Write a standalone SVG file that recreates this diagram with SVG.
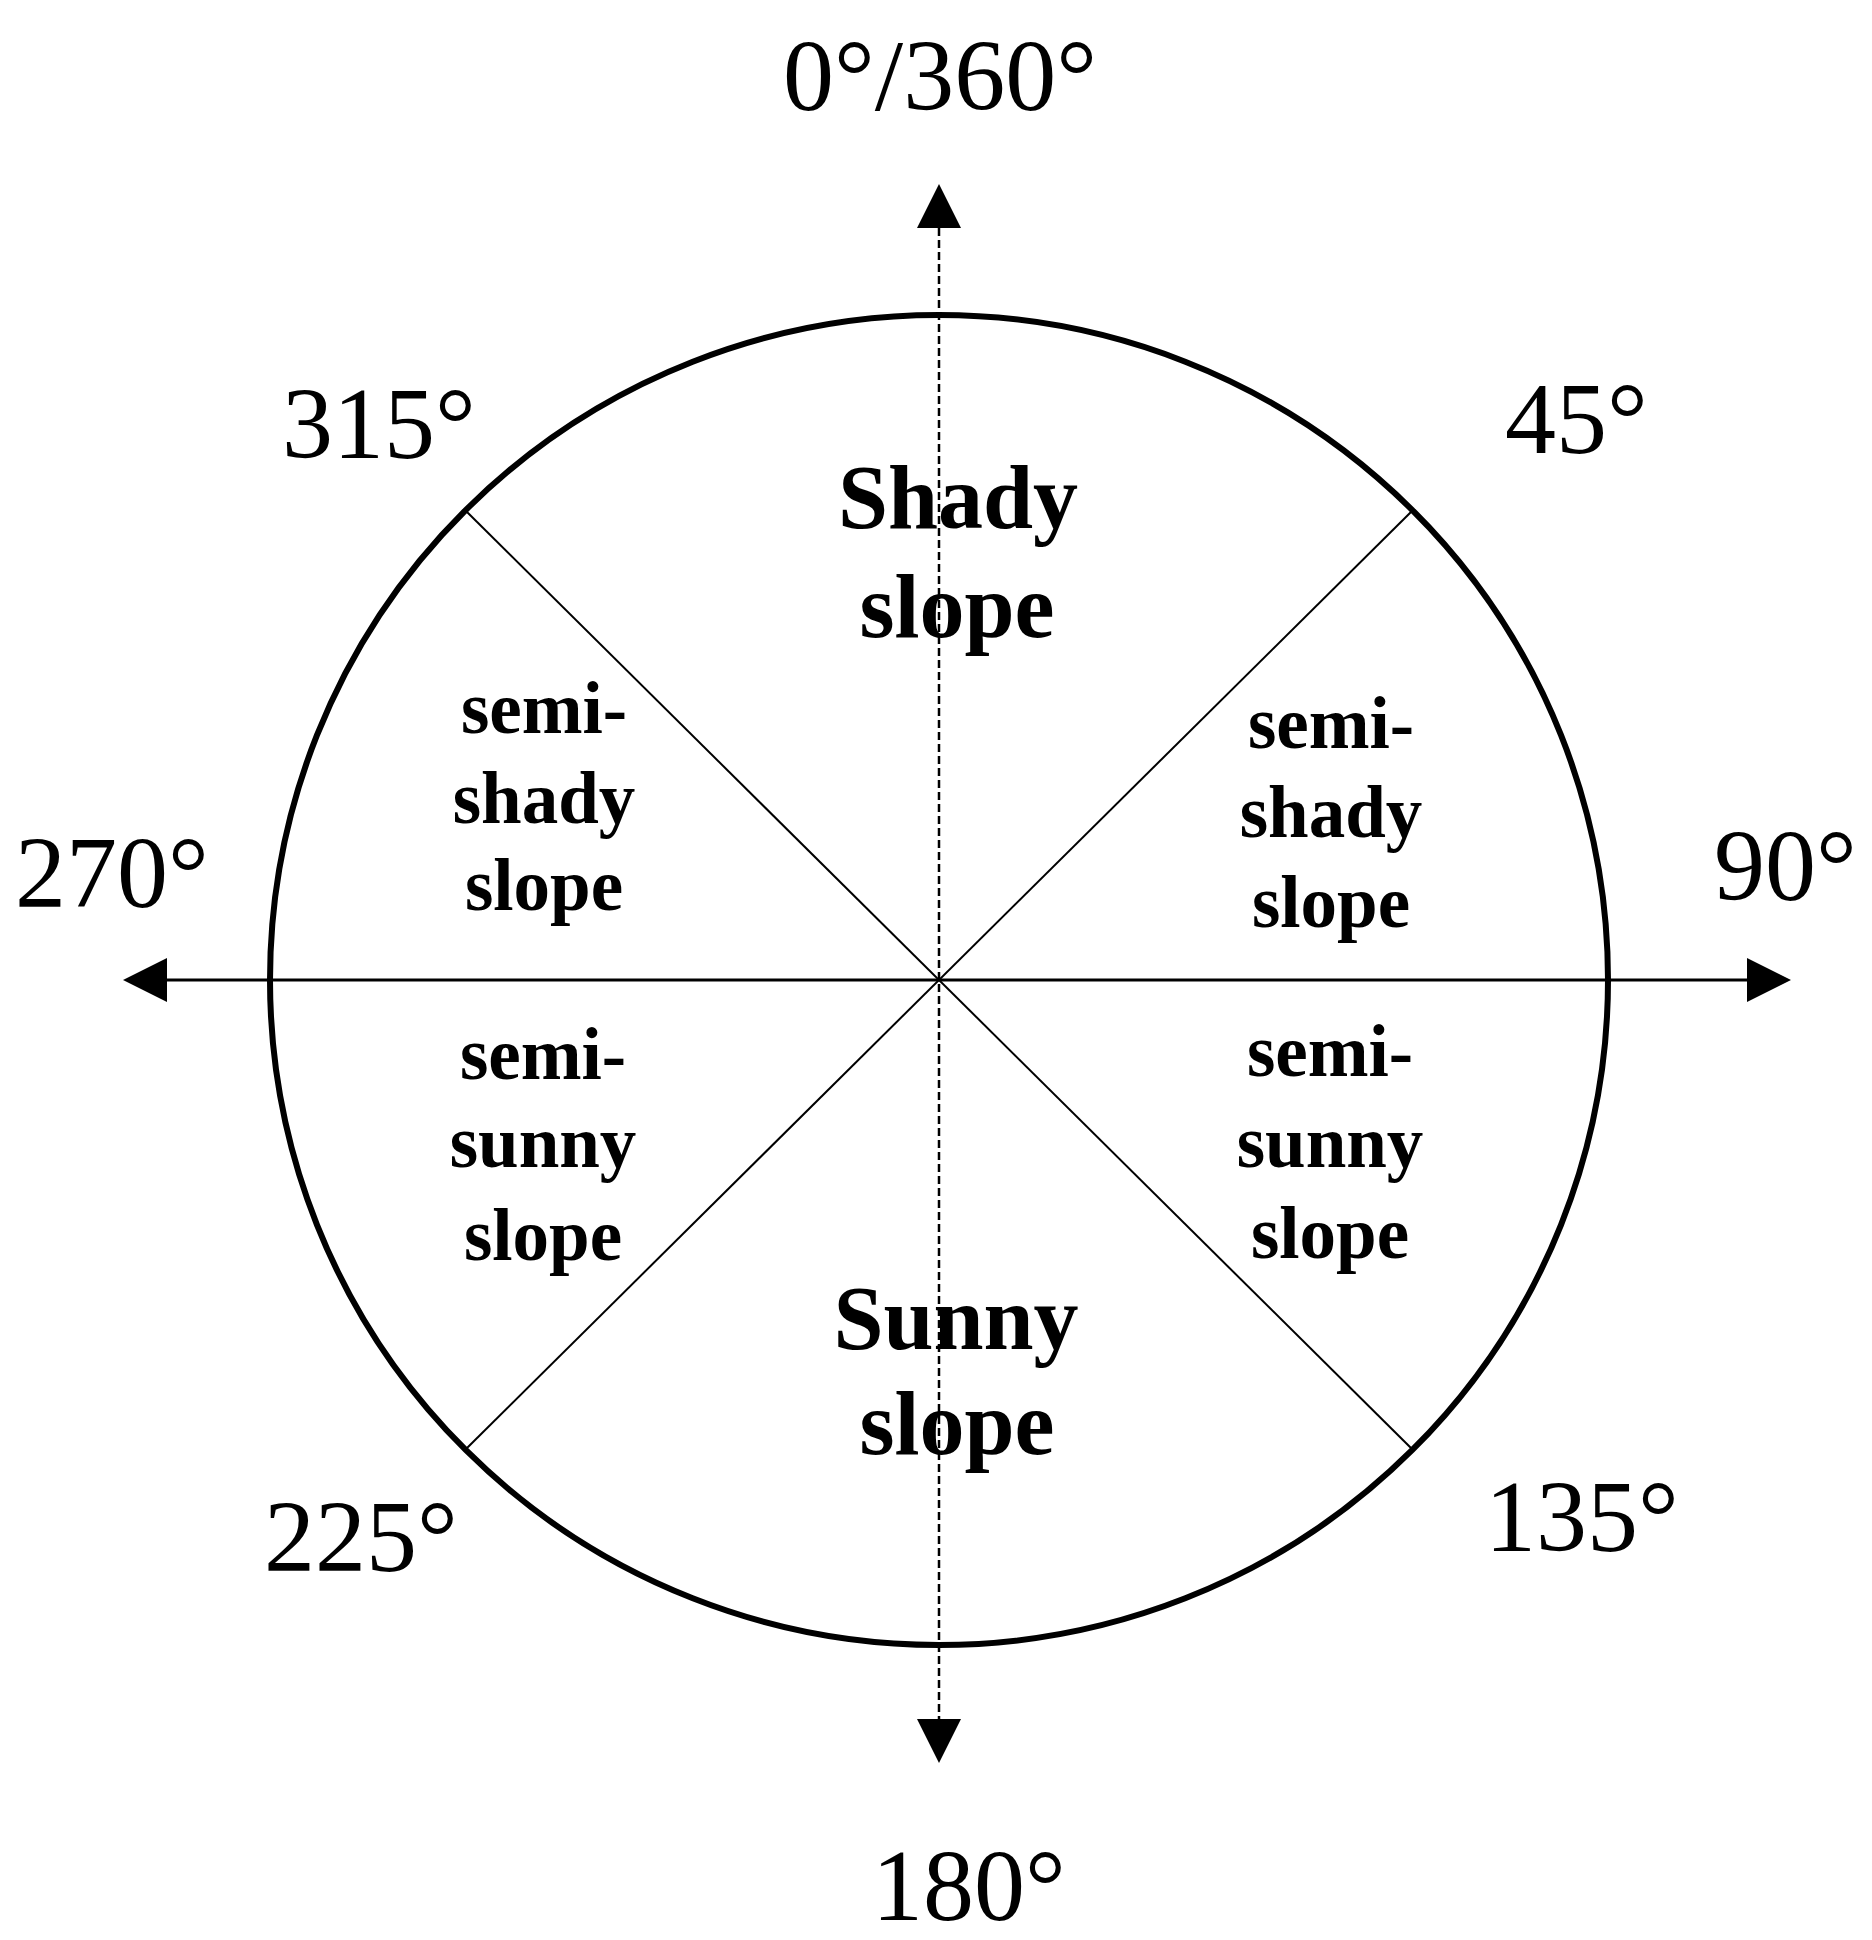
<svg xmlns="http://www.w3.org/2000/svg" width="1872" height="1940" viewBox="0 0 1872 1940">
<style>
.deg{font-family:"Liberation Serif","Times New Roman",serif;font-size:102px;fill:#000}
.big{font-family:"Liberation Serif","Times New Roman",serif;font-size:90px;font-weight:bold;fill:#000;text-anchor:middle}
.sm{font-family:"Liberation Serif","Times New Roman",serif;font-size:73px;font-weight:bold;fill:#000;text-anchor:middle}
.div{stroke:#000;stroke-width:2;fill:none}
</style>
<defs>
<marker id="arrow" viewBox="0 0 44 44" markerWidth="44" markerHeight="44" refX="0" refY="22" markerUnits="userSpaceOnUse" orient="auto-start-reverse">
<path d="M0,0 L44,22 L0,44 z" fill="#000"/>
</marker>
</defs>
<rect width="1872" height="1940" fill="#fff"/>
<g id="circle">
<ellipse cx="939" cy="980" rx="669" ry="665" fill="none" stroke="#000" stroke-width="6"/>
</g>
<g id="connectors">
<line class="div" x1="466" y1="511" x2="1412" y2="1449"/>
<line class="div" x1="1412" y1="511" x2="466" y2="1449"/>
<line x1="167" y1="980" x2="1747" y2="980" stroke="#000" stroke-width="3" marker-start="url(#arrow)" marker-end="url(#arrow)"/>
<line x1="939" y1="228" x2="939" y2="1719" stroke="#000" stroke-width="2.5" stroke-dasharray="8 4" marker-start="url(#arrow)" marker-end="url(#arrow)"/>
</g>
<g id="degrees">
<text class="deg" x="783" y="110">0°/360°</text>
<text class="deg" x="1505" y="453">45°</text>
<text class="deg" x="282" y="458">315°</text>
<text class="deg" x="15" y="907">270°</text>
<text class="deg" x="1714" y="900">90°</text>
<text class="deg" x="264" y="1571">225°</text>
<text class="deg" x="1485" y="1551">135°</text>
<text class="deg" x="872" y="1920">180°</text>
</g>
<g id="shady">
<text class="big" x="958" y="528">Shady</text>
<text class="big" x="957" y="637">slope</text>
</g>
<g id="sunny">
<text class="big" x="956" y="1349">Sunny</text>
<text class="big" x="957" y="1454">slope</text>
</g>
<g id="semi-shady-left">
<text class="sm" x="544" y="733">semi-</text>
<text class="sm" x="544" y="823">shady</text>
<text class="sm" x="544" y="910">slope</text>
</g>
<g id="semi-shady-right">
<text class="sm" x="1331" y="748">semi-</text>
<text class="sm" x="1331" y="837">shady</text>
<text class="sm" x="1331" y="927">slope</text>
</g>
<g id="semi-sunny-left">
<text class="sm" x="543" y="1079">semi-</text>
<text class="sm" x="543" y="1167">sunny</text>
<text class="sm" x="543" y="1260">slope</text>
</g>
<g id="semi-sunny-right">
<text class="sm" x="1330" y="1076">semi-</text>
<text class="sm" x="1330" y="1167">sunny</text>
<text class="sm" x="1330" y="1258">slope</text>
</g>
</svg>
